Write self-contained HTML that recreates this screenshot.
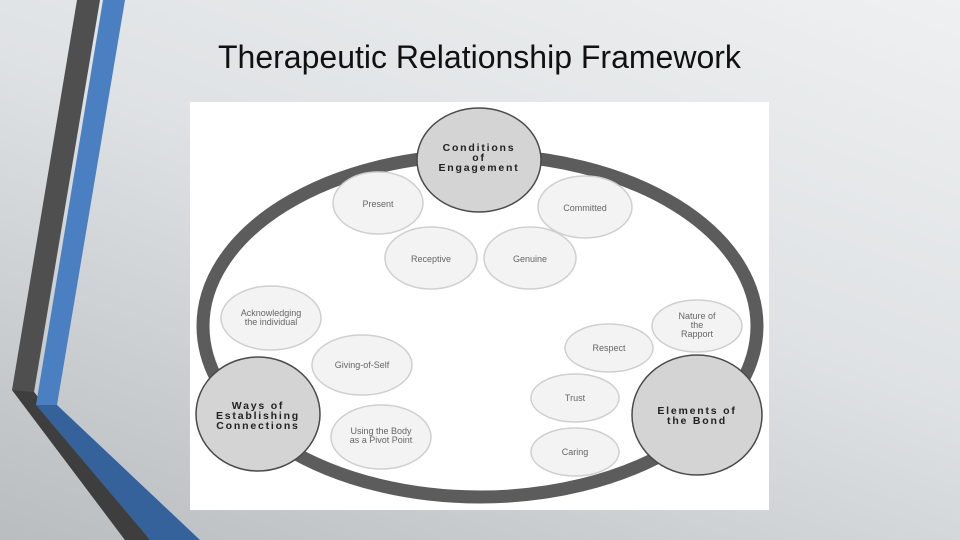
<!DOCTYPE html>
<html><head><meta charset="utf-8"><style>
body{margin:0;width:960px;height:540px;overflow:hidden;background:linear-gradient(200deg,#eef0f1 0%,#dfe2e4 45%,#b9bdbf 100%);font-family:"Liberation Sans",sans-serif;position:relative}
svg{position:absolute;left:0;top:0}
</style></head><body>
<svg width="960" height="540" viewBox="0 0 960 540">
<polygon points="77,0 100,0 34,392 150,540 125,540 12,390" fill="#4f4f4f"/>
<polygon points="12,390 34,392 150,540 125,540" fill="#3e3e3e"/>
<polygon points="103,0 125,0 57,405 36,405" fill="#4a7fc1"/>
<polygon points="36,405 57,405 200,540 150,540" fill="#35629a"/>
<text x="218" y="68" font-size="32" fill="#111" font-family="Liberation Sans, sans-serif">Therapeutic Relationship Framework</text>
<rect x="190" y="102" width="579" height="408" fill="#fff"/>
<ellipse cx="480" cy="326" rx="277" ry="171" fill="none" stroke="#5c5c5c" stroke-width="13"/>
<g fill="#f3f3f3" stroke="#cfcfcf" stroke-width="1.5">
<ellipse cx="378" cy="203" rx="45" ry="31"/>
<ellipse cx="585" cy="207" rx="47" ry="31"/>
<ellipse cx="431" cy="258" rx="46" ry="31"/>
<ellipse cx="530" cy="258" rx="46" ry="31"/>
<ellipse cx="271" cy="318" rx="50" ry="32"/>
<ellipse cx="362" cy="365" rx="50" ry="30"/>
<ellipse cx="381" cy="437" rx="50" ry="32"/>
<ellipse cx="609" cy="348" rx="44" ry="24"/>
<ellipse cx="697" cy="326" rx="45" ry="26"/>
<ellipse cx="575" cy="398" rx="44" ry="24"/>
<ellipse cx="575" cy="452" rx="44" ry="24"/>
</g>
<g fill="#d4d4d4" stroke="#4a4a4a" stroke-width="1.5">
<ellipse cx="479" cy="160" rx="62" ry="52"/>
<ellipse cx="258" cy="414" rx="62" ry="57"/>
<ellipse cx="697" cy="415" rx="65" ry="60"/>
</g>
<g font-size="9" fill="#666" text-anchor="middle" font-family="Liberation Sans, sans-serif">
<text x="378" y="207">Present</text>
<text x="585" y="211">Committed</text>
<text x="431" y="262">Receptive</text>
<text x="530" y="262">Genuine</text>
<text x="271" y="316">Acknowledging</text>
<text x="271" y="325">the individual</text>
<text x="362" y="368">Giving-of-Self</text>
<text x="381" y="434">Using the Body</text>
<text x="381" y="443">as a Pivot Point</text>
<text x="609" y="351">Respect</text>
<text x="697" y="319">Nature of</text>
<text x="697" y="328">the</text>
<text x="697" y="337">Rapport</text>
<text x="575" y="401">Trust</text>
<text x="575" y="455">Caring</text>
</g>
<g font-size="10.5" font-weight="bold" fill="#222" text-anchor="middle" letter-spacing="1.8" font-family="Liberation Sans, sans-serif">
<text x="479" y="151">Conditions</text>
<text x="479" y="161">of</text>
<text x="479" y="171">Engagement</text>
<text x="258" y="409">Ways of</text>
<text x="258" y="419">Establishing</text>
<text x="258" y="429">Connections</text>
<text x="697" y="414">Elements of</text>
<text x="697" y="424">the Bond</text>
</g>
</svg>
</body></html>
